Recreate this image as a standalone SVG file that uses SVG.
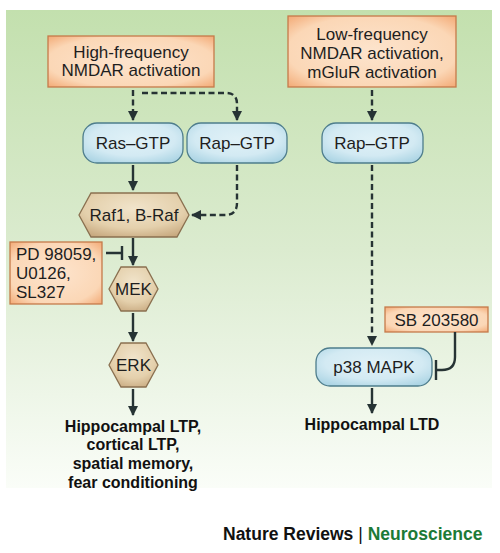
<svg xmlns="http://www.w3.org/2000/svg" width="500" height="553" viewBox="0 0 500 553">
<defs>
<linearGradient id="bg" x1="0" y1="0" x2="0" y2="1">
<stop offset="0" stop-color="#c3e0ae"/>
<stop offset="0.5" stop-color="#dbebcf"/>
<stop offset="1" stop-color="#fafdf8"/>
</linearGradient>
<radialGradient id="org" cx="0.5" cy="0.5" r="0.72">
<stop offset="0" stop-color="#fde4cd"/>
<stop offset="0.7" stop-color="#fbd7b6"/>
<stop offset="1" stop-color="#f2a670"/>
</radialGradient>
<radialGradient id="blu" cx="0.5" cy="0.4" r="0.7">
<stop offset="0" stop-color="#e0f1f7"/>
<stop offset="0.6" stop-color="#d3eaf3"/>
<stop offset="1" stop-color="#a9d3e3"/>
</radialGradient>
<radialGradient id="hex" cx="0.5" cy="0.35" r="0.75">
<stop offset="0" stop-color="#f1e4cb"/>
<stop offset="0.6" stop-color="#e4d0ac"/>
<stop offset="1" stop-color="#c4a47a"/>
</radialGradient>
<marker id="ah" viewBox="0 0 10 10" refX="9" refY="5" markerWidth="10" markerHeight="10" markerUnits="userSpaceOnUse" orient="auto">
<path d="M0,0 L10,5 L0,10 z" fill="#263334"/>
</marker>
<style>
.ob{fill:url(#org);stroke:#c57a4a;stroke-width:1.3}
.bb{fill:url(#blu);stroke:#4e7d8c;stroke-width:1.3}
.hx{fill:url(#hex);stroke:#8a7050;stroke-width:1.3}
.t{font-family:"Liberation Sans",Arial,sans-serif;font-size:17px;fill:#1e1e1e;text-anchor:middle}
.tl{font-family:"Liberation Sans",Arial,sans-serif;font-size:17px;fill:#1e1e1e}
.b{font-family:"Liberation Sans",Arial,sans-serif;font-size:16px;font-weight:bold;fill:#111;text-anchor:middle}
.c{fill:none;stroke:#263334;stroke-width:2.4}
.d{stroke-dasharray:6,3.5}
</style>
</defs>
<rect x="6" y="10" width="486" height="478" fill="url(#bg)"/>

<g id="highfreq">
<rect class="ob" x="48" y="36" width="166" height="51"/>
<text class="t" x="131" y="58">High-frequency</text>
<text class="t" x="131" y="76">NMDAR activation</text>
</g>
<g id="lowfreq">
<rect class="ob" x="288" y="16" width="168" height="71"/>
<text class="t" x="372" y="40">Low-frequency</text>
<text class="t" x="372" y="59">NMDAR activation,</text>
<text class="t" x="372" y="78">mGluR activation</text>
</g>
<g id="rasgtp">
<rect class="bb" x="83" y="123" width="100" height="40" rx="14"/>
<text class="t" x="133" y="149">Ras–GTP</text>
</g>
<g id="rapgtp1">
<rect class="bb" x="187" y="123" width="100" height="40" rx="14"/>
<text class="t" x="237" y="149">Rap–GTP</text>
</g>
<g id="rapgtp2">
<rect class="bb" x="322" y="123" width="101" height="40" rx="14"/>
<text class="t" x="372" y="149">Rap–GTP</text>
</g>
<g id="raf">
<polygon class="hx" points="79,215 91,193 177,193 189,215 177,237 91,237"/>
<text class="t" x="134" y="221">Raf1, B-Raf</text>
</g>
<g id="pd">
<rect class="ob" x="10" y="242" width="92" height="62"/>
<text class="tl" x="16" y="260">PD 98059,</text>
<text class="tl" x="16" y="279">U0126,</text>
<text class="tl" x="16" y="298">SL327</text>
</g>
<g id="mek">
<polygon class="hx" points="109,289 121,267 146,267 158,289 146,311 121,311"/>
<text class="t" x="133.5" y="295">MEK</text>
</g>
<g id="erk">
<polygon class="hx" points="109,365 121,343 146,343 158,365 146,387 121,387"/>
<text class="t" x="133.5" y="371">ERK</text>
</g>
<g id="sb">
<rect class="ob" x="385" y="307" width="103" height="25"/>
<text class="t" x="436.5" y="326">SB 203580</text>
</g>
<g id="p38">
<rect class="bb" x="316" y="348" width="116" height="38" rx="14"/>
<text class="t" x="374" y="373">p38 MAPK</text>
</g>
<g id="ltp">
<text class="b" x="133" y="432">Hippocampal LTP,</text>
<text class="b" x="133" y="450">cortical LTP,</text>
<text class="b" x="133" y="469">spatial memory,</text>
<text class="b" x="133" y="488">fear conditioning</text>
</g>
<g id="ltd">
<text class="b" x="372" y="430">Hippocampal LTD</text>
</g>

<g id="connectors">
<path class="c d" d="M133,90 V120" marker-end="url(#ah)"/>
<path class="c d" d="M142,93 H226 Q237,93 237,104 V120" marker-end="url(#ah)"/>
<path class="c" d="M133,165 V190" marker-end="url(#ah)"/>
<path class="c d" d="M237,165 V203 Q237,215 225,215 H192" marker-end="url(#ah)"/>
<path class="c" d="M133,238 V265" marker-end="url(#ah)"/>
<path class="c" d="M106,253 H121 M122,246 V260"/>
<path class="c" d="M133,313 V341" marker-end="url(#ah)"/>
<path class="c" d="M133,389 V415" marker-end="url(#ah)"/>
<path class="c d" d="M372,90 V120" marker-end="url(#ah)"/>
<path class="c d" d="M372,165 V345" marker-end="url(#ah)"/>
<path class="c" d="M455,332 V357 Q455,370 442,370 H437 M436,360 V380"/>
<path class="c" d="M372,388 V413" marker-end="url(#ah)"/>
</g>

<text x="223" y="540" font-family="'Liberation Sans',Arial,sans-serif" font-size="17.5" font-weight="bold" fill="#111">Nature Reviews <tspan font-weight="normal">|</tspan> <tspan fill="#1c7a36">Neuroscience</tspan></text>
</svg>
